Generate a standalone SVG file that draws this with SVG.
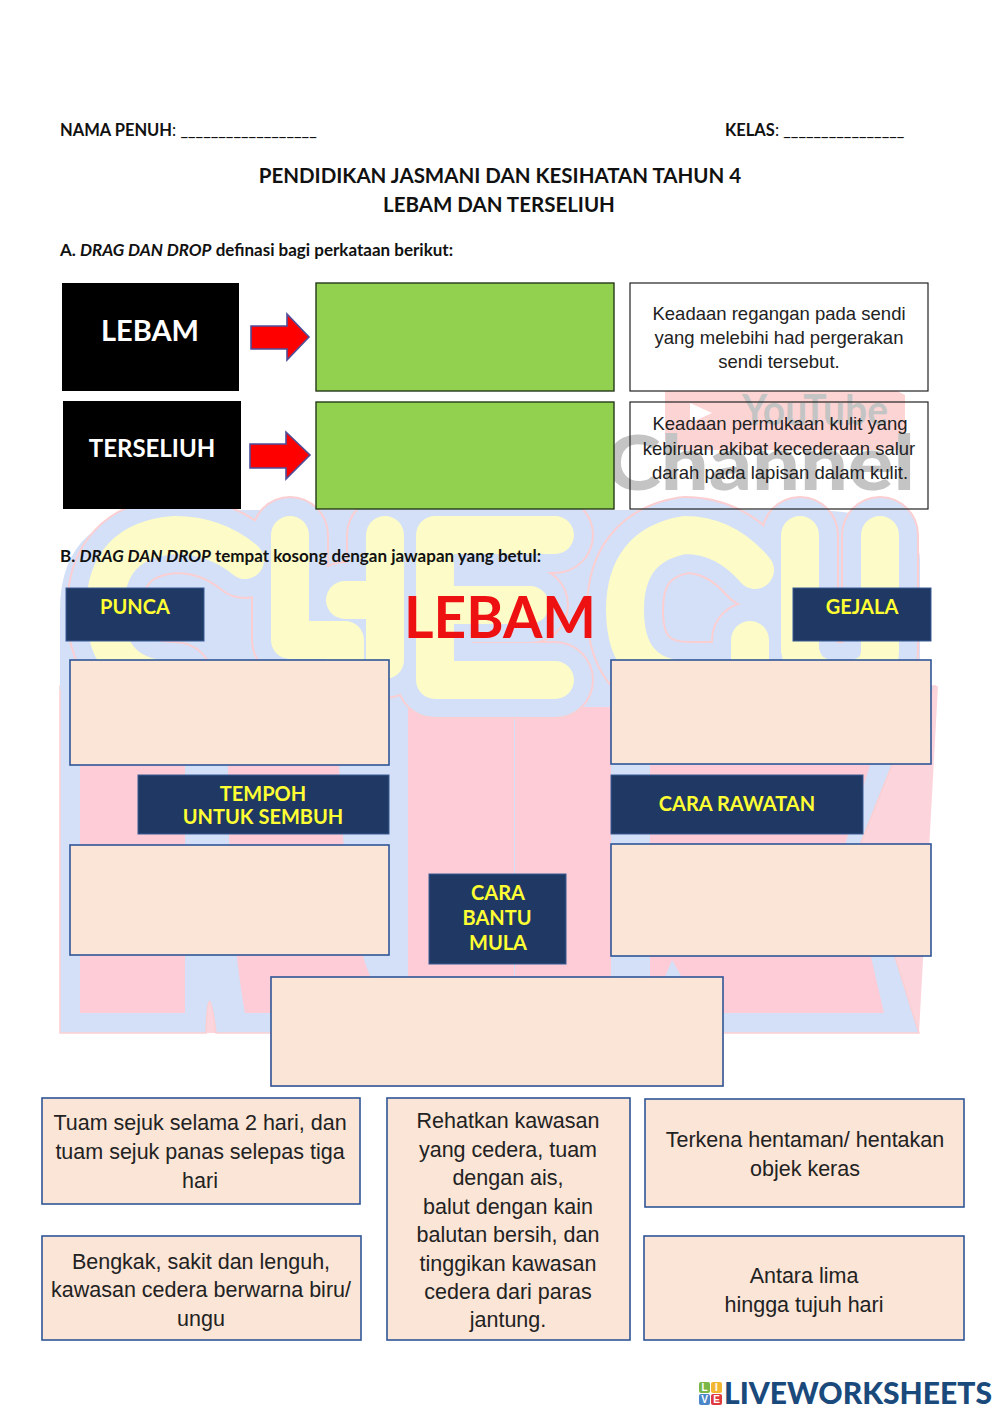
<svg xmlns="http://www.w3.org/2000/svg" width="1000" height="1413" viewBox="0 0 1000 1413">
<style>
.h{font-family:"Lato","Liberation Sans",sans-serif;fill:#111}
.b{font-weight:700}
.i{font-style:italic;font-weight:700}
.t{font-size:17px}
.c{text-anchor:middle}
.a{font-family:"Liberation Sans",Arial,sans-serif;fill:#222;text-anchor:middle;font-size:21.5px}
.d{font-family:"Liberation Sans",Arial,sans-serif;fill:#222;text-anchor:middle;font-size:18.5px}
.navy{fill:#1f3864;stroke:#3a5a94;stroke-width:1}
.peach{fill:#fbe5d6;stroke:#2f5597;stroke-width:1.6}
.green{fill:#92d050;stroke:#26391a;stroke-width:1.4}
.white{fill:none;stroke:#222;stroke-width:1.2}
.l{font-family:"Lato","Noto Sans",sans-serif;font-weight:700;fill:#ffff33;text-anchor:middle;font-size:20px}
.k{font-family:"Lato","Noto Sans",sans-serif;font-weight:700;fill:#fff;text-anchor:middle}
.arrow{fill:#ff0000;stroke:#4f4f9a;stroke-width:1.6}
.ol{fill:none;stroke-linecap:round;stroke-linejoin:round}
.sq{font-family:"Liberation Sans",sans-serif;font-weight:700;font-size:10px;fill:#fff;text-anchor:middle}
</style>
<defs>
<path id="ch" d="M245 560 Q215 535 175 535 Q105 540 105 610 Q105 680 175 680 M290 535 V640 H345 V680 M385 535 V660 M345 600 H385 M435 535 H555 M435 535 V680 H555 M435 605 H530 M755 570 Q725 535 685 535 Q625 545 625 610 Q625 680 690 680 H750 V640 M800 535 V650 Q805 680 840 680 Q880 680 880 650 V535"/>
</defs>
<rect width="1000" height="1413" fill="#fff"/>
<g id="watermark">
<path d="M60 686 H938 L919 1033 H60 Z M206 1033 H216" fill="#fcd5dc"/>
<path d="M60 686 H935 L892 765 L860 845 L919 1033 H723 V1086 H271 V1033 H216 Q208 970 206 1033 H60 Z" fill="#d3e0f8" stroke="#fbcfd2" stroke-width="1.5"/>
<path d="M80 765 H185 V1013 H80 Z M228 765 H339 Q345 960 390 1010 L271 1013 H245 Q228 920 228 765 Z M408 707 H514 V990 H408 Z M515 707 H611 V990 H515 Z M650 765 H870 L845 845 L884 1013 H702 L672 960 L650 1013 Z" fill="#fdccd6"/>
<path d="M60 700 V610 Q60 510 175 510 H800 Q920 510 920 560 V690 H60 Z" fill="#d3e0f8"/>
<path d="M670 378 Q665 378 665 390 V440 L680 450 H905 V395 L880 382 H760 L740 378 Z" fill="#fdd4d4"/>
<polygon points="690,403 690,423 712,413" fill="#fff"/>
<use href="#ch" class="ol" stroke="#fbcfd2" stroke-width="78"/>
<use href="#ch" class="ol" stroke="#d3e0f8" stroke-width="74"/>
<use href="#ch" class="ol" stroke="#fdfbc8" stroke-width="38"/>
<text x="815" y="425" font-family="Lato,sans-serif" font-weight="700" font-size="42" fill="#c4c4c4" text-anchor="middle" textLength="146" lengthAdjust="spacingAndGlyphs">YouTube</text>
<text x="760" y="490" font-family="Lato,sans-serif" font-weight="900" font-size="76" fill="#c4c4c4" text-anchor="middle" textLength="310" lengthAdjust="spacingAndGlyphs">Channel</text>
</g>
<g id="header">
<text class="h b" x="60" y="136" font-size="16.5">NAMA PENUH<tspan font-weight="400">: __________________</tspan></text>
<text class="h b" x="725" y="136" font-size="16.5">KELAS<tspan font-weight="400">: ________________</tspan></text>
<text class="h b c" x="500" y="183" font-size="20.5">PENDIDIKAN JASMANI DAN KESIHATAN TAHUN 4</text>
<text class="h b c" x="499" y="212" font-size="20.5">LEBAM DAN TERSELIUH</text>
<text class="h b t" x="60" y="256" font-size="17.5">A. <tspan class="i">DRAG DAN DROP</tspan> definasi bagi perkataan berikut:</text>
<text class="h b t" x="60" y="562" font-size="17.5">B. <tspan class="i">DRAG DAN DROP</tspan> tempat kosong dengan jawapan yang betul:</text>
</g>
<g id="lebam-term"><rect x="62" y="283" width="177" height="108" fill="#000"/><text class="k" x="150" y="341" font-size="29">LEBAM</text></g>
<g id="terseliuh-term"><rect x="63" y="401" width="178" height="108" fill="#000"/><text class="k" x="152" y="457" font-size="24">TERSELIUH</text></g>
<g id="connectors">
<polygon class="arrow" points="251,326 287,326 287,314 309,337 287,360 287,349 251,349"/>
<polygon class="arrow" points="250,444 286,444 286,432 310,455 286,479 286,468 250,468"/>
</g>
<g id="drop-a1"><rect class="green" x="316" y="283" width="298" height="108"/></g>
<g id="drop-a2"><rect class="green" x="316" y="402" width="298" height="107"/></g>
<g id="def-1"><rect x="630" y="283" width="298" height="108" fill="#fff" stroke="#222" stroke-width="1.2"/>
<text class="d" x="779" y="320">Keadaan regangan pada sendi</text><text class="d" x="779" y="344">yang melebihi had pergerakan</text><text class="d" x="779" y="368">sendi tersebut.</text></g>
<g id="def-2"><rect class="white" x="630" y="402" width="298" height="107"/>
<text class="d" x="780" y="430">Keadaan permukaan kulit yang</text><text class="d" x="779" y="455">kebiruan akibat kecederaan salur</text><text class="d" x="780" y="479">darah pada lapisan dalam kulit.</text></g>
<g id="punca"><rect class="navy" x="66" y="588" width="138" height="53"/><text class="l" x="135" y="614">PUNCA</text></g>
<g id="title-lebam"><text x="500" y="638" font-family="Lato,sans-serif" font-weight="700" font-size="58" fill="#ee1111" text-anchor="middle" textLength="192" lengthAdjust="spacingAndGlyphs">LEBAM</text></g>
<g id="gejala"><rect class="navy" x="793" y="588" width="138" height="53"/><text class="l" x="862" y="614">GEJALA</text></g>
<g id="drop-punca"><rect class="peach" x="70" y="660" width="319" height="105"/></g>
<g id="drop-gejala"><rect class="peach" x="611" y="660" width="320" height="104"/></g>
<g id="tempoh"><rect class="navy" x="138" y="775" width="251" height="59"/><text class="l" x="263" y="801">TEMPOH</text><text class="l" x="263" y="824">UNTUK SEMBUH</text></g>
<g id="cara-rawatan"><rect class="navy" x="611" y="775" width="252" height="59"/><text class="l" x="737" y="811">CARA RAWATAN</text></g>
<g id="drop-tempoh"><rect class="peach" x="70" y="845" width="319" height="110"/></g>
<g id="drop-rawatan"><rect class="peach" x="611" y="844" width="320" height="112"/></g>
<g id="cara-bantu"><rect class="navy" x="429" y="874" width="137" height="90"/><text class="l" x="498" y="900">CARA</text><text class="l" x="497" y="925">BANTU</text><text class="l" x="498" y="950">MULA</text></g>
<g id="drop-bantu"><rect class="peach" x="271" y="977" width="452" height="109"/></g>
<g id="ans-1"><rect class="peach" x="42" y="1098" width="318" height="106"/>
<text class="a" x="200" y="1130">Tuam sejuk selama 2 hari, dan</text><text class="a" x="200" y="1159">tuam sejuk panas selepas tiga</text><text class="a" x="200" y="1188">hari</text></g>
<g id="ans-2"><rect class="peach" x="42" y="1236" width="319" height="104"/>
<text class="a" x="201" y="1269">Bengkak, sakit dan lenguh,</text><text class="a" x="201" y="1297">kawasan cedera berwarna biru/</text><text class="a" x="201" y="1326">ungu</text></g>
<g id="ans-3"><rect class="peach" x="387" y="1098" width="243" height="242"/>
<text class="a" x="508" y="1128">Rehatkan kawasan</text><text class="a" x="508" y="1157">yang cedera, tuam</text><text class="a" x="508" y="1185">dengan ais,</text><text class="a" x="508" y="1214">balut dengan kain</text><text class="a" x="508" y="1242">balutan bersih, dan</text><text class="a" x="508" y="1271">tinggikan kawasan</text><text class="a" x="508" y="1299">cedera dari paras</text><text class="a" x="508" y="1327">jantung.</text></g>
<g id="ans-4"><rect class="peach" x="645" y="1099" width="319" height="108"/>
<text class="a" x="805" y="1147">Terkena hentaman/ hentakan</text><text class="a" x="805" y="1176">objek keras</text></g>
<g id="ans-5"><rect class="peach" x="644" y="1236" width="320" height="104"/>
<text class="a" x="804" y="1283">Antara lima</text><text class="a" x="804" y="1312">hingga tujuh hari</text></g>
<g id="liveworksheets">
<rect x="699" y="1382" width="11" height="11" rx="2" fill="#7ab648"/><rect x="711" y="1382" width="11" height="11" rx="2" fill="#f2b632"/><rect x="699" y="1394" width="11" height="11" rx="2" fill="#4a86c8"/><rect x="711" y="1394" width="11" height="11" rx="2" fill="#e0393e"/>
<text class="sq" x="704.500" y="1391">L</text><text class="sq" x="716.500" y="1391">I</text><text class="sq" x="704.500" y="1403">V</text><text class="sq" x="716.500" y="1403">E</text>
<text x="724" y="1404" font-family="Lato,sans-serif" font-weight="900" font-size="31" fill="#1a4a7c" textLength="268" lengthAdjust="spacingAndGlyphs">LIVEWORKSHEETS</text>
</g>
</svg>
